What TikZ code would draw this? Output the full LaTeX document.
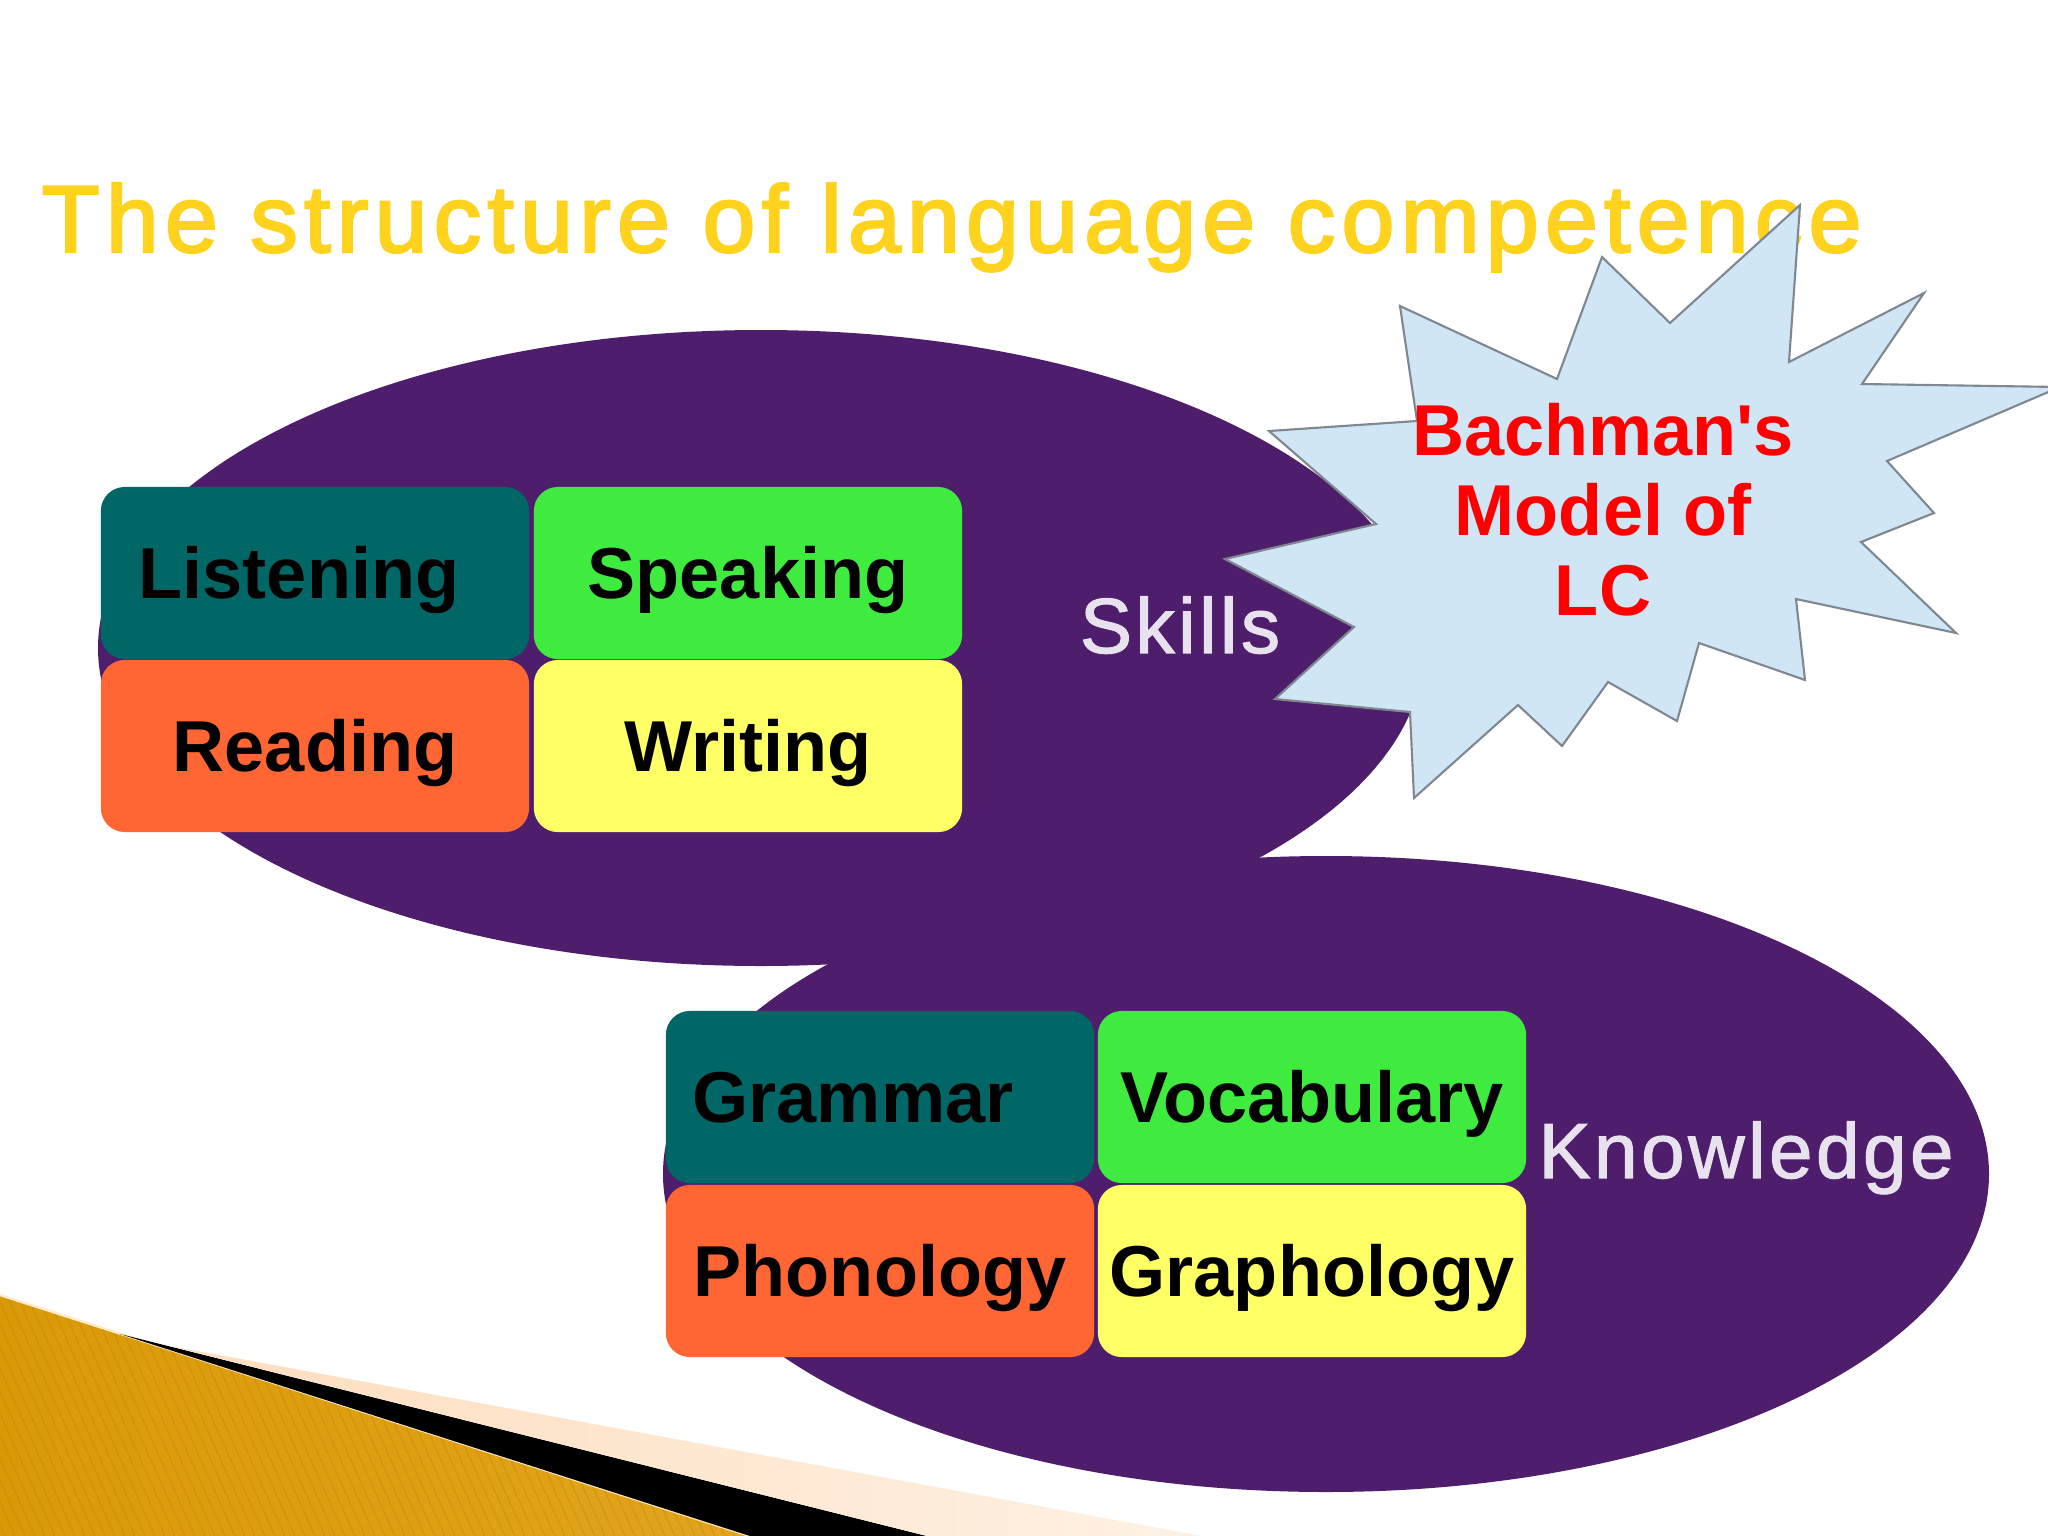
\documentclass[tikz,border=0pt]{standalone}
\usepackage{fontspec}
\setmainfont{Liberation Sans}
\newfontfamily\spacedfont[LetterSpace=6.6, FakeBold=2.5]{Liberation Sans}
\newfontfamily\areafont[LetterSpace=4.6, FakeBold=1.5]{Liberation Sans}

\definecolor{areapurple}{HTML}{4E1E6C}
\definecolor{titlegold}{HTML}{FFD21E}
\definecolor{arealabel}{HTML}{E8E2EE}
\definecolor{cellteal}{HTML}{006666}
\definecolor{cellgreen}{HTML}{40EB40}
\definecolor{cellorange}{HTML}{FF6633}
\definecolor{cellyellow}{HTML}{FFFF66}
\definecolor{starblue}{HTML}{D0E6F5}
\definecolor{stargray}{HTML}{7F8790}
\definecolor{golddark}{HTML}{DA9A08}
\definecolor{goldlight}{HTML}{F8C650}
\definecolor{goldmid}{HTML}{E2A41C}
\definecolor{peach}{HTML}{FDE8D2}

\tikzset{
    cell/.style={rounded corners=6.8pt, minimum width=4.28cm, minimum height=1.72cm,
        inner sep=0pt, text height=14.7pt, text depth=0pt,
        font=\bfseries\fontsize{20.5}{24}\selectfont},
    area/.style={fill=areapurple},
    arealabel/.style={text=arealabel, inner sep=0pt, text height=15.9pt, text depth=0pt,
        font=\areafont\fontsize{22.2}{26}\selectfont},
}

\begin{document}
\begin{tikzpicture}[x=0.01cm, y=-0.01cm]
    \fill[white] (0,0) rectangle (2048,1536);
    \useasboundingbox (0,0) rectangle (2048,1536);

    % corner
    \shade[left color=golddark, middle color=goldlight, right color=goldmid]
        (0,1295) -- (750,1536) -- (0,1536) -- cycle;
    \begin{scope}
        \clip (0,1295) -- (750,1536) -- (0,1536) -- cycle;
        \foreach \s in {-120,-110,...,750}{
            \draw[golddark!80!black, opacity=0.25, line width=0.4pt] (\s,1280) -- (\s+115,1536);
        }
    \end{scope}
    \draw[white!70!goldlight, line width=0.7pt] (0,1295) -- (750,1536);
    \fill[black] (120,1334) -- (927,1536) -- (750,1536) -- cycle;
    \shade[left color=peach!90!orange, right color=peach!60] (170,1346) -- (1202,1536) -- (927,1536) -- cycle;

    % title
    \node[anchor=west, inner sep=0pt, text height=19.3pt, text depth=0pt, text=titlegold,
        font=\spacedfont\fontsize{27}{32}\selectfont] (title) at (41,218)
        {The structure of language competence};

    % knowledge
    \fill[area] (1326,1174) ellipse [x radius=663, y radius=318];
    \foreach \name/\x/\y/\col/\txt in
    {grammar/880/1097/cellteal/{Grammar\kern0.54cm},
     vocabulary/1312/1097/cellgreen/Vocabulary,
     phonology/880/1271/cellorange/Phonology,
     graphology/1312/1271/cellyellow/Graphology}{
        \node[cell, fill=\col] (\name) at (\x,\y) {\txt};
    }
    \node[arealabel] (knowledge) at (1746,1150) {Knowledge};

    % skills
    \fill[area] (761,648) ellipse [x radius=663, y radius=318];
    \foreach \name/\x/\y/\col/\txt in
    {listening/315/573/cellteal/{Listening\kern0.32cm},
     speaking/748/573/cellgreen/Speaking,
     reading/315/746/cellorange/Reading,
     writing/748/746/cellyellow/Writing}{
        \node[cell, fill=\col] (\name) at (\x,\y) {\txt};
    }
    \node[arealabel] (skills) at (1180,625) {Skills};

    % star
    \draw[fill=starblue, draw=stargray, line width=0.6pt, line join=miter]
        (1400,306) -- (1557,379) -- (1602,257) -- (1670,323) -- (1800,205)
        -- (1789,362) -- (1924,293) -- (1862,384) -- (2060,387) -- (1887,461)
        -- (1934,513) -- (1861,542) -- (1956,633) -- (1796,599) -- (1805,680)
        -- (1699,643) -- (1677,721) -- (1608,682) -- (1562,746) -- (1518,705)
        -- (1414,798) -- (1410,712) -- (1275,699) -- (1354,627) -- (1225,559)
        -- (1376,524) -- (1269,431) -- (1417,421) -- cycle;
    \node[align=center, text=red, inner sep=0pt,
        font=\bfseries\fontsize{20.5}{22.8}\selectfont] (model) at (1603,510)
        {Bachman\textquotesingle s\\Model of\\LC};
\end{tikzpicture}
\end{document}
